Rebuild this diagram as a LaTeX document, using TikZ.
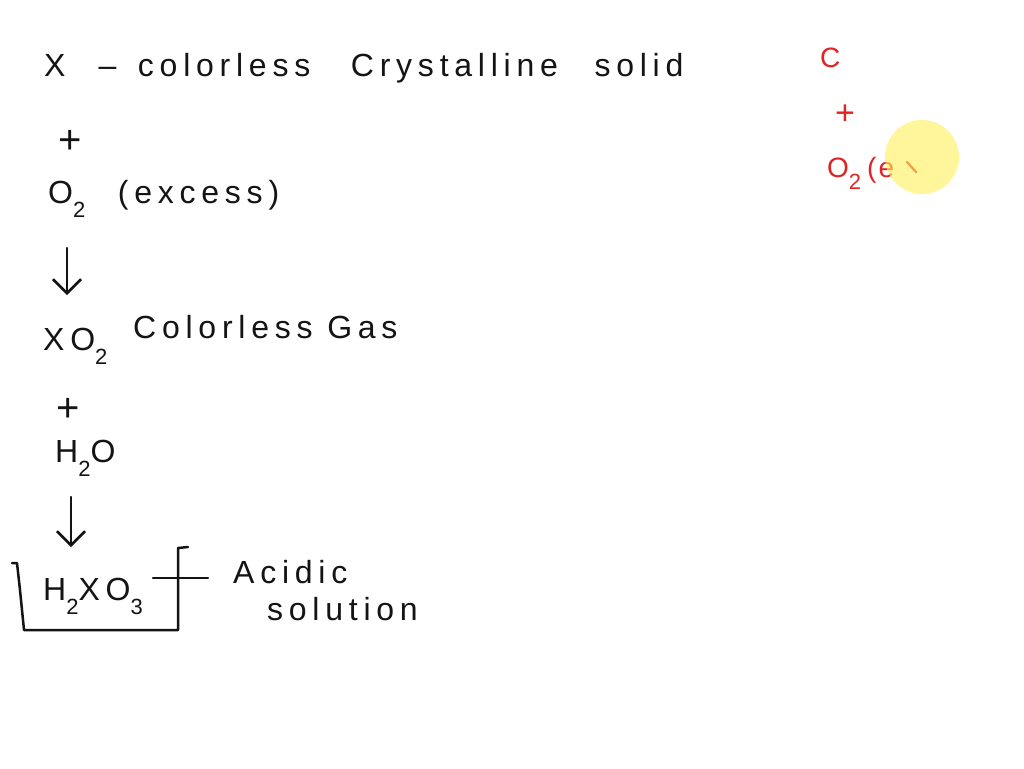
\documentclass[tikz,border=0pt]{standalone}
\usepackage{fontspec}
\usepackage{graphicx}
\setmainfont{Liberation Sans}[LetterSpace=18]
\usetikzlibrary{arrows.meta}
\newcommand\sbs[1]{\raisebox{-0.45em}{\fontsize{22}{22}\selectfont #1}}
\definecolor{ink}{RGB}{20,20,20}
\definecolor{pen}{RGB}{225,35,35}
\definecolor{hl}{RGB}{255,240,90}
\begin{document}
\begin{tikzpicture}[x=1pt,y=-1pt,
  txt/.style={anchor=base west, inner sep=0pt, font=\fontsize{32}{38}\selectfont, text=ink},
  plus/.style={anchor=center, inner sep=0pt, font=\fontsize{40}{44}\selectfont, text=ink},
  rtxt/.style={anchor=base west, inner sep=0pt, font=\fontsize{28}{34}\selectfont, text=pen},
  rplus/.style={anchor=center, inner sep=0pt, font=\fontsize{34}{40}\selectfont, text=pen},
  stroke/.style={draw=ink, line width=2.5pt, line cap=round, line join=round},
  arr/.style={stroke, -{Straight Barb[length=14pt,width=28pt,line width=2.5pt]}}]
\useasboundingbox[fill=white] (0,0) rectangle (1024,768);
% left column
\node[txt] (l1) at (44,76) {X\hspace{33pt}–\hspace{7pt} colorless\hspace{26pt} Crystalline\hspace{22pt} solid};
\node[plus] (p1) at (70,142) {+};
\node[txt] (o2) at (48,203) {O\sbs{2}\hspace{18pt} (excess)};
\coordinate (a1s) at (67,248);
\coordinate (a1e) at (67,295);
\draw[arr] (a1s) -- (a1e);
\node[txt] (xo2) at (43,350) {XO\sbs{2}};
\node[txt] (gas) at (133,338) {Colorless Gas};
\node[plus] (p2) at (68,410) {+};
\node[txt] (h2o) at (55,462) {H\sbs{2}O};
\coordinate (a2s) at (71,497);
\coordinate (a2e) at (71,547);
\draw[arr] (a2s) -- (a2e);
\node[txt] (h2xo3) at (43,600) {H\sbs{2}XO\sbs{3}};
\draw[stroke] (12,563) -- (17,563) -- (20,590) -- (24,630) -- (178,630) -- (178,548) -- (188,547);
\coordinate (t1) at (153,578);
\coordinate (t2) at (208,578);
\draw[stroke] (t1) -- (t2);
\node[txt] (acid) at (233,583) {Acidic};
\node[txt] (soln) at (267,620) {solution};
% right column (red)
\node[rtxt] (c) at (820,67) {C};
\node[rplus] (p3) at (845,115) {+};
\node[rtxt] (o2r) at (827,177) {O\sbs{2}\hspace{6pt}(\hspace{2pt}e};
\draw[draw=pen, line width=2.2pt, line cap=round] (907,162) -- (916,172);
\fill[hl, opacity=0.6] (922,157) circle (37);
\end{tikzpicture}
\end{document}
